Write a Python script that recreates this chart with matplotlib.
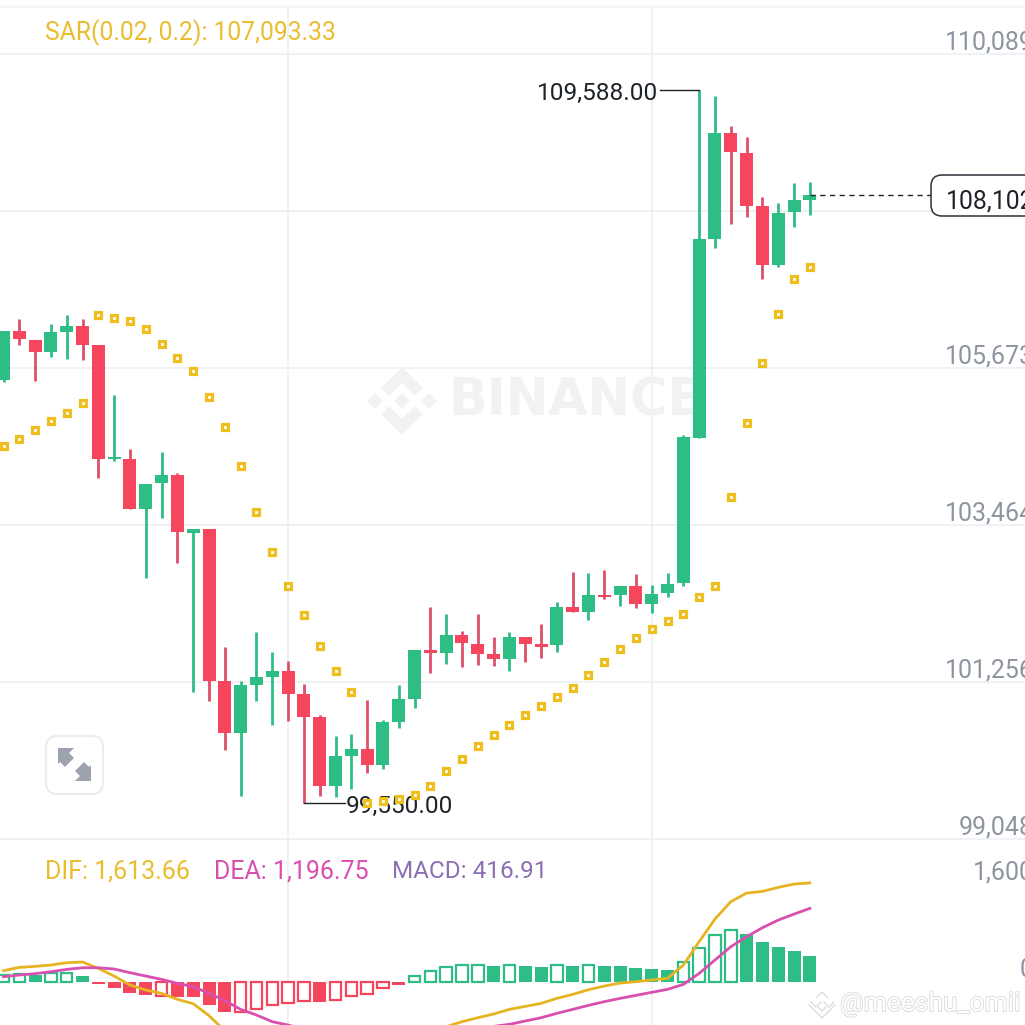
import matplotlib
matplotlib.use("Agg")
import matplotlib.pyplot as plt
import matplotlib.patheffects as pe
from matplotlib.patches import Polygon, FancyBboxPatch, Rectangle
from matplotlib.transforms import Affine2D, blended_transform_factory

plt.rcParams["font.family"] = ["Roboto", "DejaVu Sans"]

# candles, oldest first
opens = [105503, 106193, 106066, 105897, 106183, 106267, 105996, 104388, 104396, 103685,
         104050, 104171, 103355, 103408, 101265, 100542, 101217, 101330, 101406, 101087,
         100759, 99797, 100219, 100317, 100088, 100697, 101020, 101710, 101663, 101921,
         101790, 101645, 101583, 101888, 101786, 101772, 102310, 102236, 102479, 102479,
         102610, 102348, 102503, 102644, 104688, 107483, 108974, 108701, 107947, 107121,
         107863, 108040]
closes = [106197, 106076, 105897, 106174, 106267, 106000, 104392, 104425, 103685, 104041,
          104171, 103361, 103408, 101274, 100542, 101209, 101326, 101406, 101091, 100763,
          99797, 100210, 100317, 100088, 100693, 101012, 101705, 101659, 101921, 101800,
          101653, 101579, 101888, 101794, 101752, 102310, 102236, 102479, 102447, 102610,
          102348, 102493, 102634, 104702, 107483, 108974, 108707, 107947, 107121, 107857,
          108031, 108102]
highs = [106197, 106357, 106066, 106291, 106418, 106362, 105996, 105292, 104537, 104041,
         104495, 104191, 103408, 103408, 101743, 101265, 101959, 101673, 101546, 101227,
         100795, 100496, 100520, 100998, 100717, 101217, 101705, 102315, 102212, 101977,
         102208, 101888, 101954, 101888, 102067, 102376, 102798, 102784, 102827, 102610,
         102770, 102616, 102784, 104730, 109588, 109494, 109072, 108922, 108074, 107989,
         108279, 108293]
lows = [105480, 106000, 105489, 105831, 105803, 105785, 104129, 104360, 103685, 102718,
        103566, 102925, 101110, 100992, 100303, 99656, 100984, 100655, 100707, 99550,
        99656, 99633, 99746, 99971, 100036, 100604, 100894, 101386, 101513, 101466,
        101494, 101485, 101414, 101541, 101597, 101681, 102236, 102127, 102419, 102329,
        102300, 102222, 102447, 102606, 104688, 107356, 107702, 107801, 106920, 107093,
        107660, 107820]
sar = [104575, 104669, 104804, 104931, 105043, 105180, 106422, 106371, 106329, 106221,
       106014, 105813, 105630, 105264, 104842, 104298, 103647, 103084, 102606, 102194,
       101766, 101414, 101115, 99549, 99577, 99610, 99670, 99792, 99999, 100176,
       100351, 100510, 100655, 100791, 100918, 101044, 101171, 101358, 101532, 101715,
       101870, 102001, 102118, 102216, 102447, 102606, 103858, 104899, 105738, 106428,
       106920, 107089]

# macd panel
macd_hist = [109, 120, 114, 136, 141, 98, -33, -98, -190, -212,
             -228, -250, -256, -381, -490, -500, -446, -381, -348, -310,
             -326, -294, -234, -196, -109, -60, 92, 180, 239, 272,
             277, 250, 277, 250, 234, 277, 250, 277, 250, 250,
             218, 201, 190, 316, 555, 756, 838, 772, 647, 571,
             495, 416.91]
hist_hollow = [0, 1, 3, 4, 10, 15, 16, 17, 18, 19, 21, 22, 23, 24, 26, 27, 28, 29, 30,
               32, 35, 37, 43, 44, 45, 46]
dif = [180, 234, 250, 272, 310, 321, 218, 92, -54, -136,
       -190, -288, -359, -555, -800, -979, -1115, -1224, -1306, -1360,
       -1387, -1387, -1333, -1251, -1142, -1034, -925, -827, -734, -653,
       -588, -528, -452, -403, -354, -272, -207, -131, -71, -22,
       0, 27, 54, 272, 653, 1023, 1306, 1447, 1474, 1540,
       1594, 1613.66]
dea = [82, 109, 131, 163, 201, 228, 228, 207, 147, 92,
       38, -27, -82, -190, -310, -452, -544, -653, -707, -778,
       -843, -887, -908, -925, -919, -898, -870, -838, -805, -778,
       -756, -729, -696, -642, -588, -517, -452, -386, -326, -272,
       -223, -174, -125, -44, 136, 354, 571, 734, 881, 1006,
       1104, 1196.75]

price_ticks = [110089, 107881, 105673, 103464, 101256, 99048]
price_tick_labels = ["110,089", None, "105,673", "103,464", "101,256", "99,048"]
macd_ticks = [1600, 0]
macd_tick_labels = ["1,600", "0"]
time_grid = [18, 41]

GREEN = "#2ebd85"
RED = "#f6465d"
RED_WICK = "#de5069"
GRID = "#eff0f3"
TICK = "#8d95a1"
YELLOW = "#eabd2f"
INK = "#1e2329"

fig = plt.figure(figsize=(10.25, 10.25), dpi=100)
px = Affine2D().scale(1 / 1025, -1 / 1025).translate(0, 1) + fig.transFigure

ax = fig.add_axes([0, 186 / 1025, 1, 839 / 1025])
ax_m = fig.add_axes([0, 0, 1, 186 / 1025])
for a in (ax, ax_m):
    a.set_xlim(-0.2214, 64.61)
    a.set_xticks([])
    a.set_yticks([])
    a.patch.set_alpha(0)
    for s in a.spines.values():
        s.set_visible(False)
ax.set_ylim(99048, 110849)
ax_m.set_ylim(-707, 2330)

# grid
for i in time_grid:
    ax.plot([i, i], [99048, 110737], color=GRID, lw=1.3, zorder=1)
    ax_m.axvline(i, color=GRID, lw=1.3, zorder=1)
for p in price_ticks:
    ax.axhline(p, color=GRID, lw=1.3, zorder=1, clip_on=False)
ax.add_patch(Rectangle((0, 5), 1025, 3, transform=px, color="#f5f6f9", lw=0, zorder=1))

# watermark
wm = "#f1f2f3"
top_chev = [(402, 367), (423, 388), (415, 396), (402, 383), (389, 396), (381, 388)]
logo = [top_chev, [(x, 802 - y) for x, y in top_chev]]
for cx in (375, 402, 429):
    logo.append([(cx - 8, 401), (cx, 393), (cx + 8, 401), (cx, 409)])
for pts in logo:
    ax.add_patch(Polygon(pts, transform=px, color=wm, lw=0, zorder=1))
ax.text(448, 402, "BINANCE", transform=px, family="DejaVu Sans", color=wm, fontsize=36.6,
        fontweight="bold", ha="left", va="center", zorder=1)

# candles
body_w = 13 / 15.81
wick_w = 2.0
for i in range(len(opens)):
    up = closes[i] >= opens[i]
    ax.vlines(i, lows[i], highs[i], color=GREEN if up else RED_WICK, lw=wick_w, zorder=3)
    ax.bar(i, abs(closes[i] - opens[i]), bottom=min(opens[i], closes[i]), width=body_w,
           color=GREEN if up else RED, lw=0, zorder=4)

# high / low callouts sit under the sar dots
ax.plot([(660 - 3.5) / 15.81, 44], [109588, 109588], color=INK, lw=1, zorder=5)
ax.text(658, 93, "109,588.00", transform=px, color=INK, fontsize=17.6, ha="right",
        va="center", zorder=5)
ax.plot([19, (345 - 3.5) / 15.81], [99550, 99550], color=INK, lw=1, zorder=5)
ax.text(346, 806, "99,550.00", transform=px, color=INK, fontsize=17.6, ha="left",
        va="center", zorder=5)

ax.plot(range(len(sar)), sar, ls="none", marker="s", ms=3.7, mfc="white", mec="#eebf1f",
        mew=2.3, zorder=6)

# current price
ax.plot([51, (931 - 3.5) / 15.81], [closes[-1], closes[-1]], color=INK, lw=1.0,
        ls=(0, (3.8, 3.2)), zorder=5)
ax.add_patch(FancyBboxPatch((931, 175), 120, 41, boxstyle="round,pad=0,rounding_size=11",
                            transform=px, fc="white", ec="#2b3139", lw=1.1, zorder=5))
ax.text(946, 201, "108,102", transform=px, color=INK, fontsize=17.8, ha="left",
        va="center", zorder=6)

# axis labels sit just above their gridline
tr = blended_transform_factory(ax.transAxes, ax.transData)
for p, lab in zip(price_ticks, price_tick_labels):
    if lab:
        ax.annotate(lab, (1.0085, p), xycoords=tr, xytext=(0, 8.2), textcoords="offset points",
                    color=TICK, fontsize=18, ha="right", va="center", annotation_clip=False,
                    zorder=5)
tr_m = blended_transform_factory(ax_m.transAxes, ax_m.transData)
for v, lab in zip(macd_ticks, macd_tick_labels):
    ax_m.annotate(lab, (1.0085, v), xycoords=tr_m, xytext=(0, 8.2), textcoords="offset points",
                  color=TICK, fontsize=18, ha="right", va="center", annotation_clip=False)

# expand button
ax.add_patch(FancyBboxPatch((46, 736), 57, 58, boxstyle="round,pad=0,rounding_size=11",
                            transform=px, fc="white", ec="#eceded", lw=1.6, zorder=5))
arrow_a = [(58, 748), (74, 748), (69, 753), (74, 758), (65, 767), (60, 762), (58, 764)]
for pts in (arrow_a, [(149 - x, 1529 - y) for x, y in arrow_a]):
    ax.add_patch(Polygon(pts, transform=px, color="#9da3ae", lw=0, zorder=6))

# legends
ax.text(45, 33, "SAR(0.02, 0.2): 107,093.33", transform=px, color=YELLOW, fontsize=17.7,
        ha="left", va="center", zorder=7)
ax_m.text(45, 872, "DIF: 1,613.66", transform=px, color=YELLOW, fontsize=18, ha="left",
          va="center", zorder=7)
ax_m.text(214, 872, "DEA: 1,196.75", transform=px, color="#d94fb0", fontsize=18, ha="left",
          va="center", zorder=7)
ax_m.text(392, 872, "MACD: 416.91", transform=px, color="#8c6fb5", fontsize=17.5, ha="left",
          va="center", zorder=7)

# macd histogram
for i, v in enumerate(macd_hist):
    col = GREEN if v >= 0 else RED
    if i in hist_hollow:
        ax_m.bar(i, v, width=11.5 / 15.81, fc="white", ec=col, lw=1.6, zorder=3)
    else:
        ax_m.bar(i, v, width=13 / 15.81, color=col, lw=0, zorder=3)
ax_m.plot(range(len(dif)), dif, color="#e6b422", lw=2.0, zorder=4)
ax_m.plot(range(len(dea)), dea, color="#d94fb0", lw=2.0, zorder=5)

# screenshot watermark
mark = "#d9d9d9"
ax_m.text(840, 1004, "@meeshu_omii", transform=px, color="white", fontsize=19, ha="left",
          va="center", zorder=8, path_effects=[pe.withStroke(linewidth=1.2, foreground=mark)])
for cx, cy, r in ((816, 1002, 5), (829, 1002, 5), (822, 1007, 4)):
    ax_m.plot([cx - r, cx, cx + r], [cy, cy + r, cy], transform=px, color=mark, lw=0.9,
              zorder=8)
ax_m.plot([809, 822, 835], [1005, 1018, 1005], transform=px, color=mark, lw=0.9, zorder=8)
ax_m.plot([816, 822, 828], [998, 992, 998], transform=px, color=mark, lw=0.9, zorder=8)

fig.savefig("out.png", dpi=100)
